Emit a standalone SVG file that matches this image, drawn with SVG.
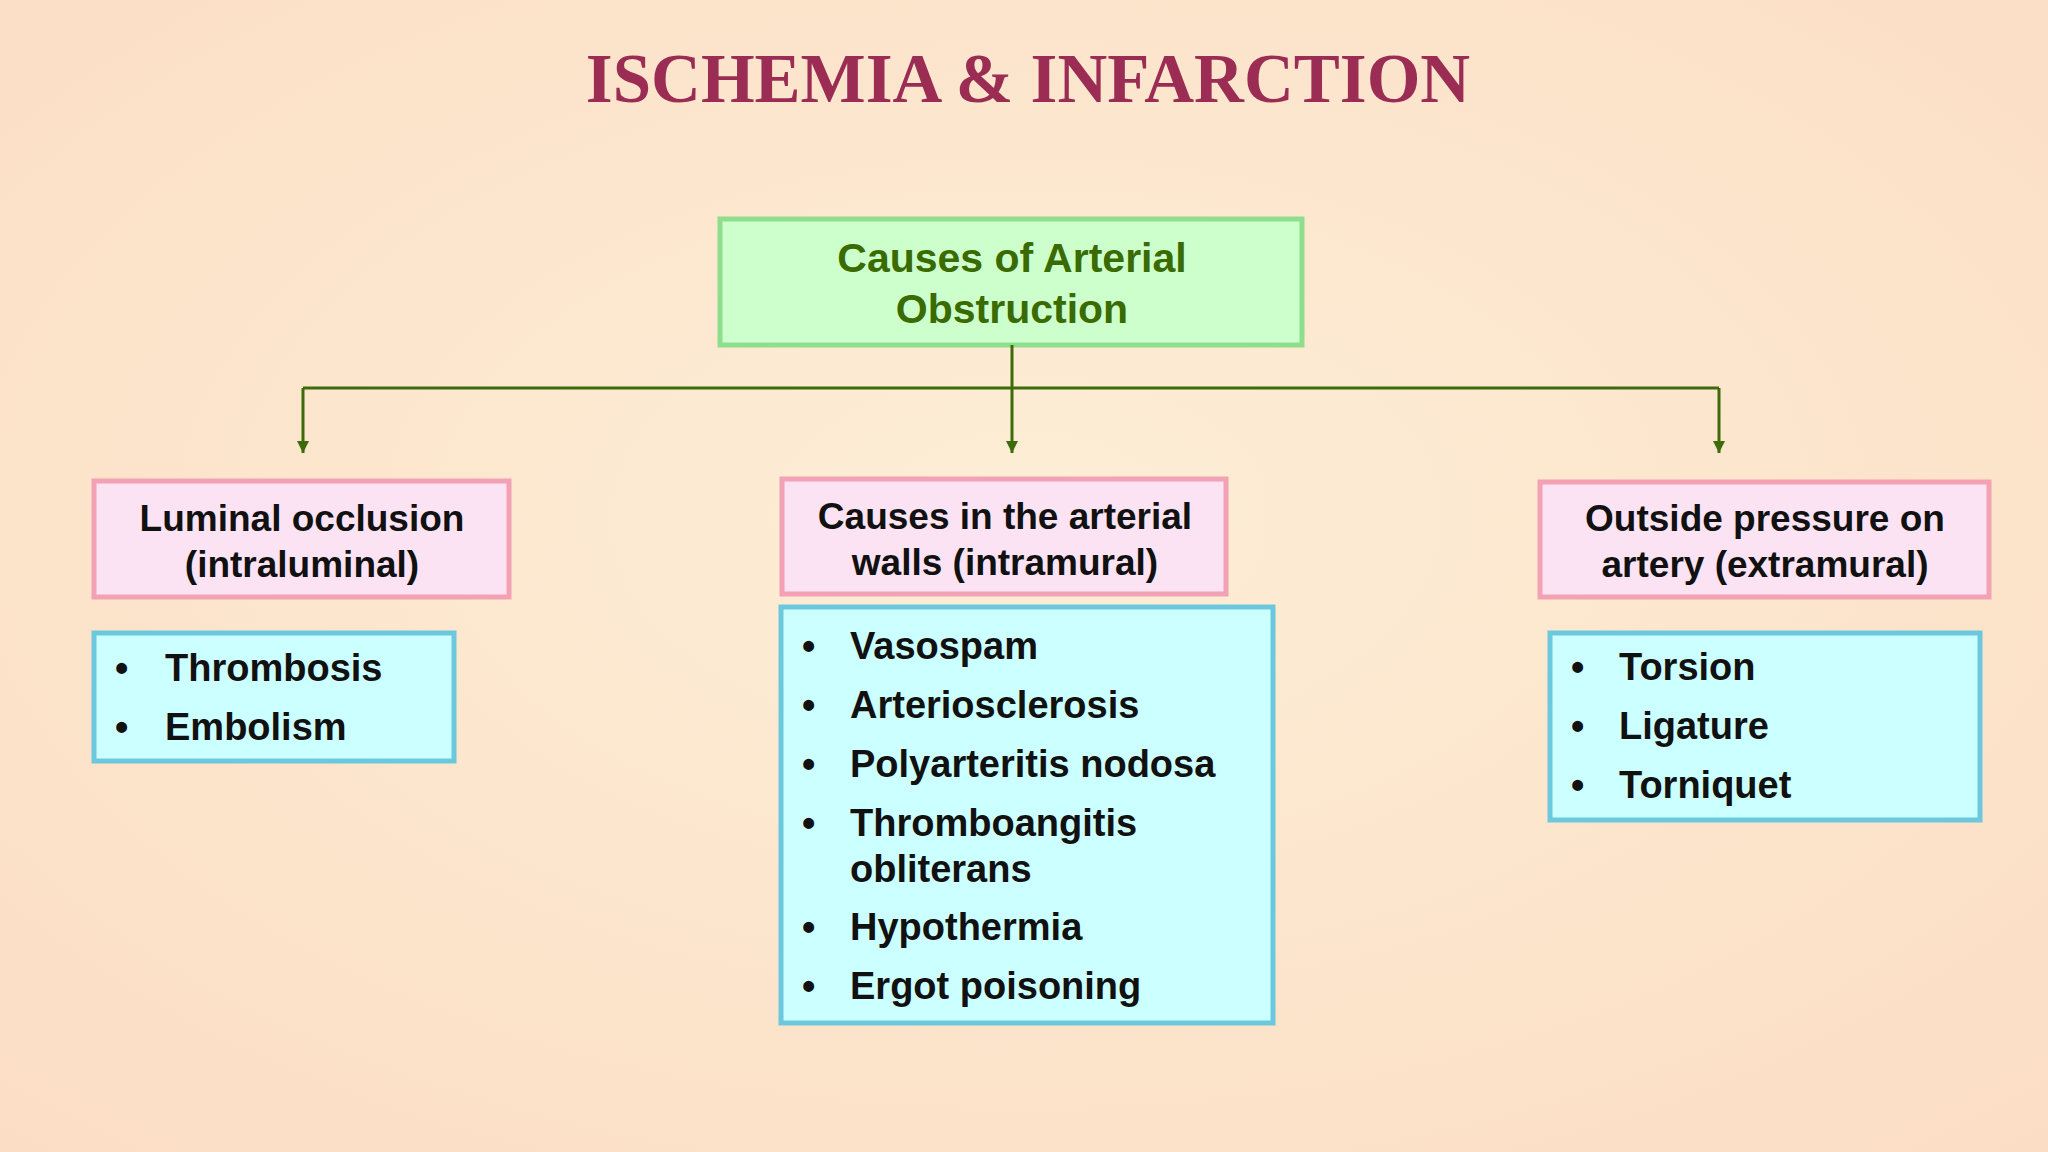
<svg xmlns="http://www.w3.org/2000/svg" width="2048" height="1152" viewBox="0 0 2048 1152">
<defs>
<radialGradient id="bg" cx="0.5" cy="0.45" r="0.8"><stop offset="0" stop-color="#fdeed6"/><stop offset="1" stop-color="#fbdcc3"/></radialGradient>
<marker id="ah" markerWidth="12" markerHeight="12" refX="10" refY="5" orient="auto" markerUnits="userSpaceOnUse" viewBox="0 0 10 10"><path d="M0,0 L10,5 L0,10 z" fill="#3d6b0a"/></marker>
</defs>
<style>
.t{font-family:"Liberation Sans",Arial,sans-serif;font-weight:bold}
.pink{fill:#fbe3f3;stroke:#f2a2b4;stroke-width:5}
.blue{fill:#ccffff;stroke:#6cc8dc;stroke-width:5}
.hd{font-size:37px;fill:#111;text-anchor:middle}
.it{font-size:38px;fill:#111}
.c{stroke:#3d6b0a;stroke-width:3;fill:none}
</style>
<rect width="2048" height="1152" fill="url(#bg)"/>
<text x="1028" y="102" text-anchor="middle" font-family="Liberation Serif,serif" font-weight="bold" font-size="69" fill="#9b2d55">ISCHEMIA &amp; INFARCTION</text>
<g id="root"><rect x="720" y="219" width="582" height="126" fill="#ccffcc" stroke="#8ede8e" stroke-width="5"/>
<text class="t" x="1012" y="272" font-size="41" fill="#3a6b00" text-anchor="middle">Causes of Arterial</text>
<text class="t" x="1012" y="323" font-size="41" fill="#3a6b00" text-anchor="middle">Obstruction</text></g>
<g id="connectors">
<path class="c" d="M1012,345 V388 M303,388 H1719"/>
<path class="c" d="M303,388 V453" marker-end="url(#ah)"/>
<path class="c" d="M1012,388 V453" marker-end="url(#ah)"/>
<path class="c" d="M1719,388 V453" marker-end="url(#ah)"/>
</g>
<g id="luminal"><rect class="pink" x="94" y="481" width="415" height="116"/>
<text class="t hd" x="302" y="531">Luminal occlusion</text><text class="t hd" x="302" y="577">(intraluminal)</text></g>
<g id="intramural"><rect class="pink" x="782" y="479" width="444" height="115"/>
<text class="t hd" x="1005" y="529">Causes in the arterial</text><text class="t hd" x="1005" y="575">walls (intramural)</text></g>
<g id="extramural"><rect class="pink" x="1540" y="482" width="449" height="115"/>
<text class="t hd" x="1765" y="531">Outside pressure on</text><text class="t hd" x="1765" y="577">artery (extramural)</text></g>
<g id="list-luminal"><rect class="blue" x="94" y="633" width="360" height="128"/>
<text class="t it" x="115" y="681">•</text><text class="t it" x="165" y="681">Thrombosis</text>
<text class="t it" x="115" y="740">•</text><text class="t it" x="165" y="740">Embolism</text></g>
<g id="list-intramural"><rect class="blue" x="781" y="607" width="492" height="416"/>
<text class="t it" x="802" y="659">•</text><text class="t it" x="850" y="659">Vasospam</text>
<text class="t it" x="802" y="718">•</text><text class="t it" x="850" y="718">Arteriosclerosis</text>
<text class="t it" x="802" y="777">•</text><text class="t it" x="850" y="777">Polyarteritis nodosa</text>
<text class="t it" x="802" y="836">•</text><text class="t it" x="850" y="836">Thromboangitis</text>
<text class="t it" x="850" y="882">obliterans</text>
<text class="t it" x="802" y="940">•</text><text class="t it" x="850" y="940">Hypothermia</text>
<text class="t it" x="802" y="999">•</text><text class="t it" x="850" y="999">Ergot poisoning</text></g>
<g id="list-extramural"><rect class="blue" x="1550" y="633" width="430" height="187"/>
<text class="t it" x="1571" y="680">•</text><text class="t it" x="1619" y="680">Torsion</text>
<text class="t it" x="1571" y="739">•</text><text class="t it" x="1619" y="739">Ligature</text>
<text class="t it" x="1571" y="798">•</text><text class="t it" x="1619" y="798">Torniquet</text></g>
</svg>
